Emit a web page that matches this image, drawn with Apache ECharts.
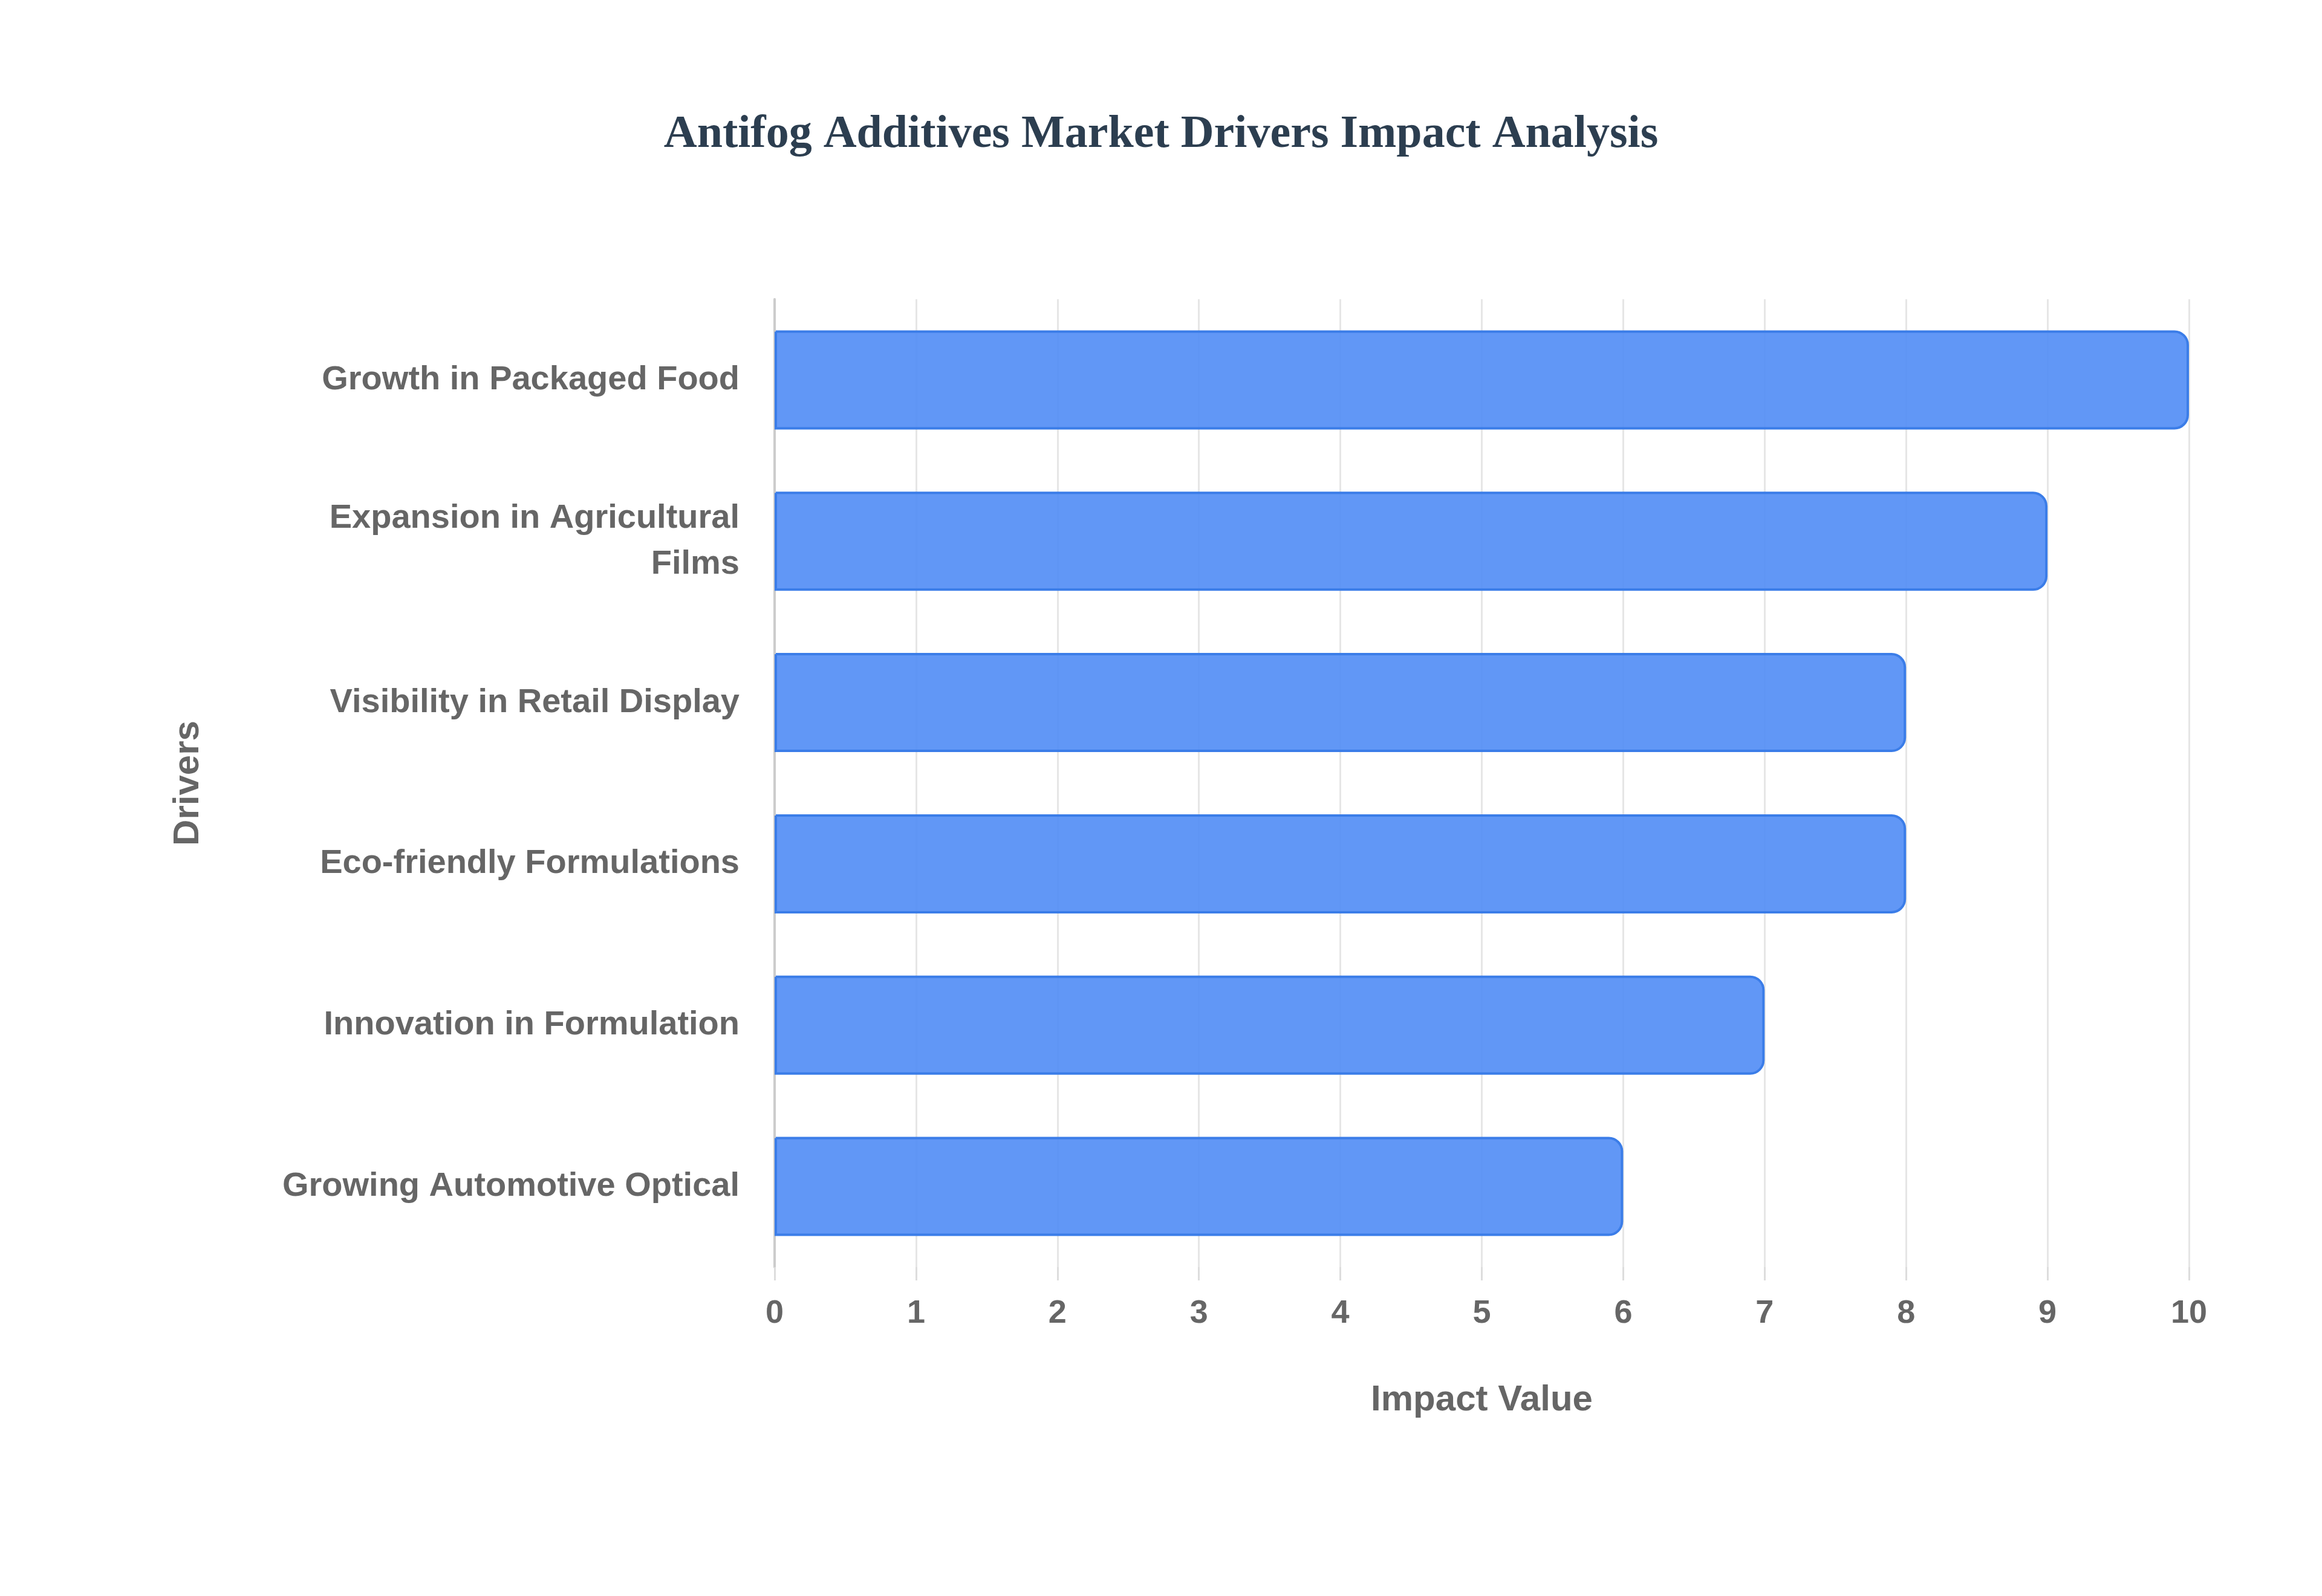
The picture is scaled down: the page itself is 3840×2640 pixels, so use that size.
<!DOCTYPE html>
<html>
<head>
<meta charset="utf-8">
<script src="https://cdn.jsdelivr.net/npm/echarts@6/dist/echarts.min.js"></script>
<style>html,body{margin:0;background:#fff}#chart{width:3840px;height:2640px}</style>
</head>
<body>
<div id="chart"></div>
<script>
// bottom-to-top order for the category axis
var drivers = [
    'Growing Automotive Optical',
    'Innovation in Formulation',
    'Eco-friendly Formulations',
    'Visibility in Retail Display',
    'Expansion in Agricultural\nFilms',
    'Growth in Packaged Food'
];
var impactValues = [6, 7, 8, 8, 9, 10];

var chart = echarts.init(document.getElementById('chart'));
chart.setOption({
    animation: false,
    title: {
        text: 'Antifog Additives Market Drivers Impact Analysis',
        left: 'center',
        top: 180,
        textStyle: { fontFamily: 'Liberation Serif', fontWeight: 'bold', fontSize: 76, color: '#2c3e50' }
    },
    grid: { left: 1281, right: 220, top: 495, bottom: 544 },
    xAxis: {
        type: 'value',
        min: 0, max: 10, interval: 1,
        name: 'Impact Value',
        nameLocation: 'middle',
        nameGap: 190,
        nameTextStyle: { fontFamily: 'Liberation Sans', fontWeight: 'bold', fontSize: 60, color: '#666' },
        axisLabel: { fontFamily: 'Liberation Sans', fontWeight: 'bold', fontSize: 54, color: '#666', margin: 50 },
        axisLine: { show: false },
        axisTick: { show: true, length: 22, lineStyle: { color: '#ddd', width: 3 } },
        splitLine: { lineStyle: { color: '#e6e6e6', width: 3 } }
    },
    yAxis: {
        type: 'category',
        data: drivers,
        name: 'Drivers',
        nameLocation: 'middle',
        nameGap: 940,
        nameTextStyle: { fontFamily: 'Liberation Sans', fontWeight: 'bold', fontSize: 60, color: '#666' },
        axisLabel: { fontFamily: 'Liberation Sans', fontWeight: 'bold', fontSize: 56, color: '#666', margin: 58, lineHeight: 76 },
        axisLine: { lineStyle: { color: '#ccc', width: 4 } },
        axisTick: { show: false },
        splitLine: { show: false }
    },
    series: [{
        type: 'bar',
        data: impactValues,
        barWidth: 164,
        itemStyle: {
            color: 'rgba(80,140,245,0.9)',
            borderColor: '#3b7de8',
            borderWidth: 4,
            borderRadius: [0, 22, 22, 0]
        }
    }]
});
</script>
</body>
</html>
